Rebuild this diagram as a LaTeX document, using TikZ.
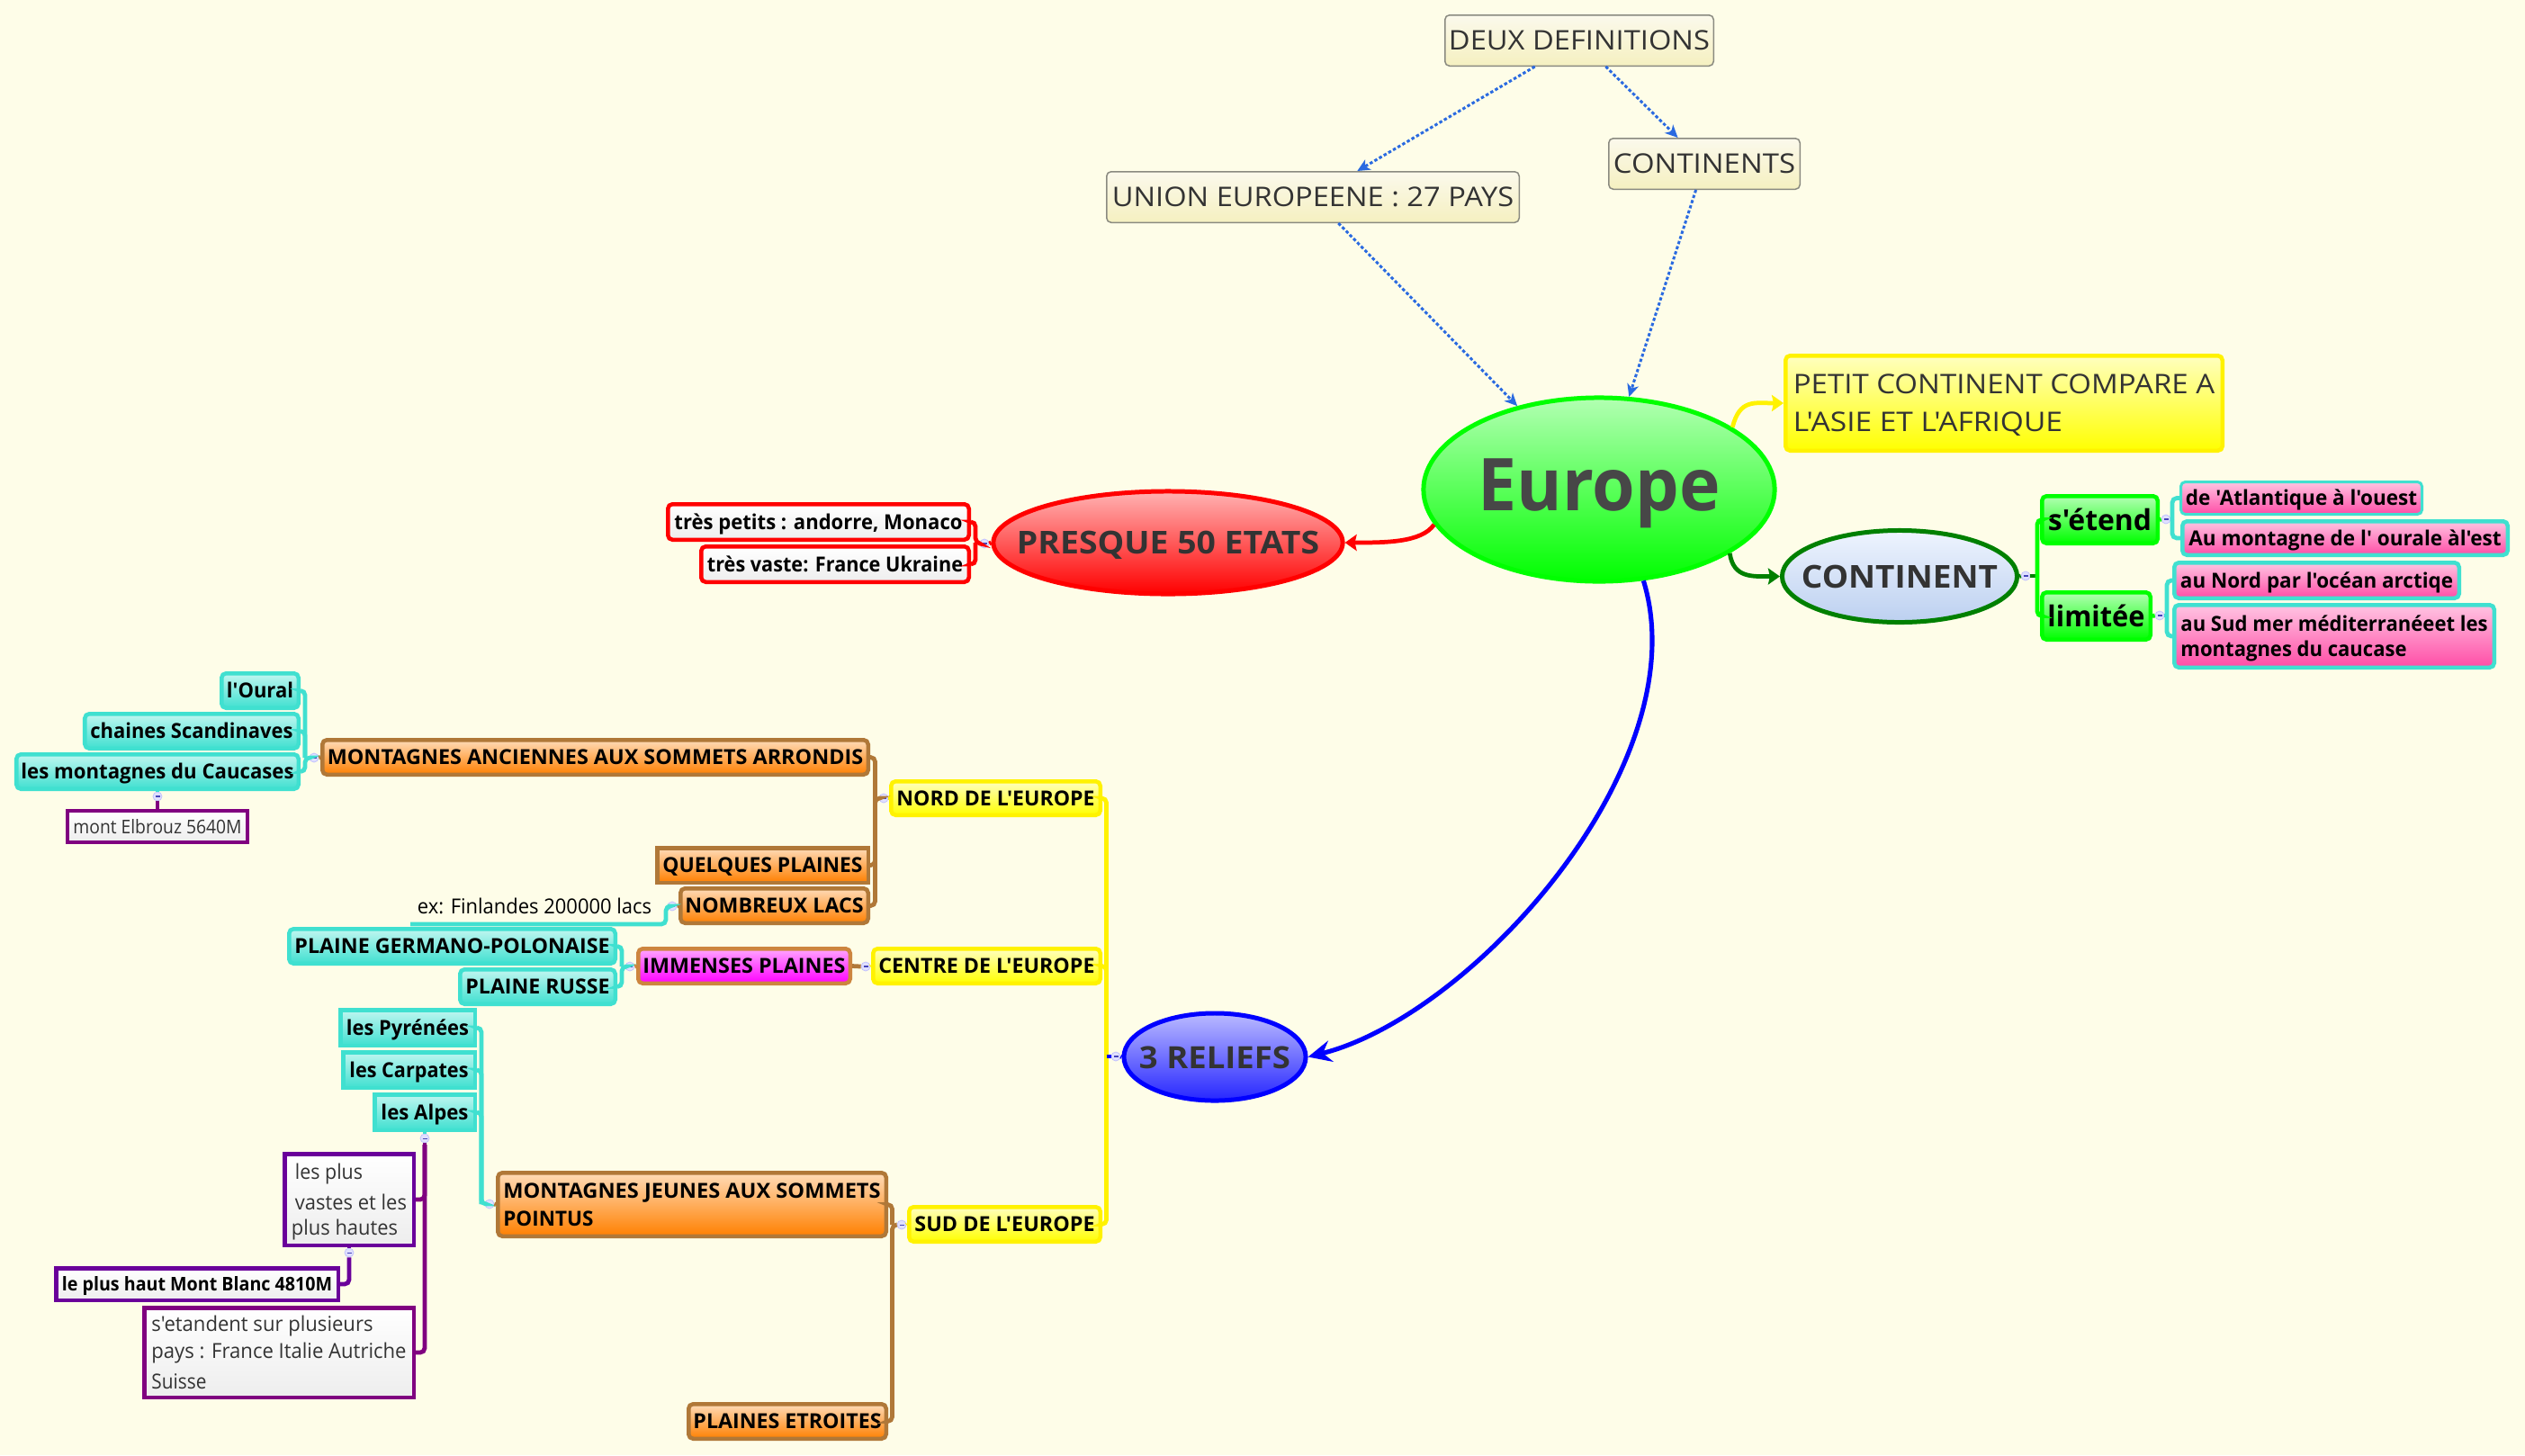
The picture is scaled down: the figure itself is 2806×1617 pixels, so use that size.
\documentclass[tikz,border=0pt]{standalone}
\usepackage{graphicx}
\usepackage{fontspec}
\setmainfont{Open Sans}[Ligatures=TeXOff]
\usetikzlibrary{arrows.meta,shapes.geometric}
\definecolor{bgc}{HTML}{FEFDE8}
\definecolor{tq}{HTML}{40E0D0}
\definecolor{tqt}{HTML}{C0F6F0}
\definecolor{brn}{HTML}{B07838}
\definecolor{brl}{HTML}{CD853F}
\definecolor{pu}{HTML}{800080}
\definecolor{pv}{HTML}{6A009A}
\definecolor{dg}{HTML}{008000}
\definecolor{dot}{HTML}{2A6AE0}
\definecolor{ink}{HTML}{333333}
\definecolor{pkt}{HTML}{FFC4E2}
\definecolor{pkb}{HTML}{FF4DA6}
\definecolor{cot}{HTML}{EEF4FE}
\definecolor{cob}{HTML}{BCD0F0}
\definecolor{crt}{HTML}{FBF9EC}
\definecolor{crb}{HTML}{F5F0C0}
\definecolor{crd}{HTML}{8A8A80}
\newsavebox{\fwbox}
% a line of text made exactly #1 px wide
\newcommand\fw[2]{\sbox{\fwbox}{#2}\pgfmathsetmacro{\fwr}{#1*0.28453/\the\wd\fwbox}\dp\fwbox=0pt \ht\fwbox=0.72em \scalebox{\fwr}[1]{\usebox{\fwbox}}}
% text in an ellipse: takes no room, baseline #1 below the centre
\newcommand\eltxt[2]{\makebox[0pt]{\smash{\raisebox{-#1}{#2}}}}
% box from outer corners
\newcommand\bx[8][4.5]{%
  \pgfmathsetmacro{\bxa}{(#4+#6)/2}\pgfmathsetmacro{\bxb}{(#5+#7)/2}%
  \pgfmathsetmacro{\bxw}{#6-#4-#1}\pgfmathsetmacro{\bxh}{#7-#5-#1}%
  \node[boxbase,#3,line width=#1*0.28453pt,minimum width=\bxw*0.01cm,minimum height=\bxh*0.01cm] (#2) at (\bxa,\bxb) {#8};}
\newcommand\mk[3]{\node[mark node] (#1) at (#2,#3) {};\draw[minus line] ([xshift=-0.025cm]#1.center) -- ([xshift=0.025cm]#1.center);}
\tikzset{
  boxbase/.style={rectangle,inner sep=0pt,align=left},
  rc/.style={rounded corners=0.05cm},
  mark node/.style={circle,inner sep=0pt,minimum size=0.1cm,fill=blue!12,draw=blue!25,line width=0.2pt},
  minus line/.style={draw=blue!45!gray,line width=0.3pt},
  b23/.style={font=\fontsize{6.54}{8.82}\selectfont\bfseries,text=black},
  r23/.style={font=\fontsize{6.54}{8.9}\selectfont,text=ink},
  tqb/.style={draw=tq,top color=tqt,bottom color=tq,b23},
  ye/.style={draw=yellow,top color=yellow!25!white,bottom color=yellow,b23,rc},
  org/.style={draw=brn,top color=orange!28!white,bottom color=orange!100!red,b23},
  pk/.style={draw=tq,top color=pkt,bottom color=pkb,b23,rc},
  gb/.style={draw=green,top color=green!30!white,bottom color=green,rc,font=\fontsize{9.1}{11}\selectfont\bfseries,text=black},
  wr/.style={draw=red,top color=white,bottom color=black!7,b23,rc},
  wp/.style={draw=pu,top color=white,bottom color=black!7,r23},
  wv/.style={draw=pv,top color=white,bottom color=black!7,r23},
  cream/.style={rc,draw=crd,top color=crt,bottom color=crb,font=\fontsize{8.54}{12}\selectfont,text=ink},
  ell/.style={ellipse,inner sep=0pt,font=\fontsize{9.96}{12}\selectfont\bfseries,text=ink},
  link/.style={line width=1.35pt,rounded corners=0.05cm},
  dotlink/.style={draw=dot,line width=0.85pt,dash pattern=on 1pt off 0.7pt,-{Stealth[length=0.14cm,width=0.13cm,inset=0.04cm]}},
  big tip/.style={-{Stealth[length=0.13cm,width=0.18cm,inset=0.02cm]}},
}
\begin{document}
\begin{tikzpicture}[x=0.01cm,y=-0.01cm]
\useasboundingbox (0,0) rectangle (2806,1617);
\fill[bgc] (0,0) rectangle (2806,1617);

% ---- top definitions
\bx[1.5]{dd}{cream}{1605}{16}{1905}{74}{\fw{290}{DEUX DEFINITIONS}}
\bx[1.5]{cn}{cream}{1787}{153}{2001}{211}{\fw{202}{CONTINENTS}}
\bx[1.5]{ue}{cream}{1229}{190}{1689}{248}{\fw{446}{UNION EUROPEENE : 27 PAYS}}

% ---- central ellipses
\node[ell,minimum width=3.9cm,minimum height=2.04cm,line width=1.42pt,draw=green,top color=green!30!white,bottom color=green,font=\fontsize{23}{28}\selectfont\bfseries,text=black!72] (eu) at (1777,544) {\eltxt{0.23cm}{\fw{269}{Europe}}};
\node[ell,minimum width=2.61cm,minimum height=1.02cm,line width=1.42pt,draw=dg,top color=cot,bottom color=cob] (co) at (2111,640.5) {\eltxt{0.125cm}{\fw{218}{CONTINENT}}};
\node[ell,minimum width=3.88cm,minimum height=1.14cm,line width=1.42pt,draw=red,top color=red!30!white,bottom color=red] (pr) at (1298,603) {\eltxt{0.12cm}{\fw{336}{PRESQUE 50 ETATS}}};
\node[ell,minimum width=2.02cm,minimum height=0.97cm,line width=1.42pt,draw=blue,top color=blue!27!white,bottom color=blue!85!white,font=\fontsize{9.67}{12}\selectfont\bfseries] (re) at (1350,1174.5) {\eltxt{0.125cm}{\fw{168}{3 RELIEFS}}};

\bx{pe}{ye,font=\fontsize{8.54}{11.95}\selectfont,text=ink}{1982}{393}{2472}{503}{\fw{468}{PETIT CONTINENT COMPARE A}\\\fw{299}{L'ASIE ET L'AFRIQUE}}

% ---- right branch
\bx{se}{gb}{2267}{549}{2400}{606}{\fw{115}{s'étend}}
\bx{li}{gb}{2267}{656}{2392}{713}{\fw{108}{limitée}}
\bx[3]{at}{pk}{2422}{534}{2693}{573}{\fw{257}{de 'Atlantique à l'ouest}}
\bx{mo}{pk}{2423}{577}{2789}{619}{\fw{347}{Au montagne de l' ourale àl'est}}
\bx{no}{pk}{2414}{623}{2735}{667}{\fw{303}{au Nord par l'océan arctiqe}}
\bx{su}{pk,font=\fontsize{6.54}{7.97}\selectfont\bfseries}{2414}{670}{2774}{744}{\fw{341}{au Sud mer méditerranéeet les}\\\fw{251}{montagnes du caucase}}

% ---- red branch
\bx{tp}{wr}{740}{558}{1079}{602}{\fw{320}{très petits : andorre, Monaco}}
\bx{tv}{wr}{777}{605}{1079}{649}{\fw{284}{très vaste: France Ukraine}}

% ---- north
\bx{ou}{tqb,rc}{244}{746}{334}{789}{\fw{74}{l'Oural}}
\bx{ch}{tqb,rc}{92}{791}{334}{834}{\fw{225}{chaines Scandinaves}}
\bx{ca}{tqb,rc}{16}{836}{334}{879}{\fw{303}{les montagnes du Caucases}}
\bx[4]{el}{wp,font=\fontsize{5.98}{8}\selectfont}{73}{899}{277}{938}{\fw{187}{mont Elbrouz 5640M}}
\bx{ma}{org,rc}{356}{820}{967}{863}{\fw{595}{MONTAGNES ANCIENNES AUX SOMMETS ARRONDIS}}
\bx{qu}{org}{728}{940}{967}{983}{\fw{222}{QUELQUES PLAINES}}
\bx{nb}{org,rc}{754}{985}{967}{1028}{\fw{198}{NOMBREUX LACS}}
\bx[0]{ex}{r23,text=black,draw=none}{456}{987}{732}{1027}{\fw{260}{ex: Finlandes 200000 lacs}}
\bx{nd}{ye}{988}{866}{1225}{908}{\fw{220}{NORD DE L'EUROPE}}

% ---- centre
\bx{ge}{tqb,rc}{319}{1030}{686}{1073}{\fw{350}{PLAINE GERMANO-POLONAISE}}
\bx{ru}{tqb,rc}{509}{1075}{686}{1118}{\fw{160}{PLAINE RUSSE}}
\bx{im}{draw=brl,top color=magenta!35!white,bottom color=magenta,b23,rc}{707}{1052}{947}{1095}{\fw{225}{IMMENSES PLAINES}}
\bx{ce}{ye}{968}{1052}{1225}{1095}{\fw{240}{CENTRE DE L'EUROPE}}

% ---- south
\bx{py}{tqb}{376}{1120}{530}{1164}{\fw{136}{les Pyrénées}}
\bx{cr}{tqb}{379}{1167}{530}{1211}{\fw{132}{les Carpates}}
\bx{al}{tqb}{414}{1214}{530}{1258}{\fw{97}{les Alpes}}
\bx{lp}{wv,font=\fontsize{6.54}{8.82}\selectfont}{314}{1280}{462}{1386}{\hspace*{0.04cm}\fw{75}{les plus}\\[0.85pt]\hspace*{0.04cm}\fw{124}{vastes et les}\\[-0.85pt]\fw{118}{plus hautes}}
\bx{lh}{wv,b23,font=\fontsize{5.98}{8}\selectfont\bfseries}{60}{1407}{378}{1447}{\fw{300}{le plus haut Mont Blanc 4810M}}
\bx{se2}{wp,font=\fontsize{6.54}{9.1}\selectfont}{158}{1451}{462}{1555}{\fw{246}{s'etandent sur plusieurs}\\[-0.57pt]\fw{283}{pays : France Italie Autriche}\\[0.57pt]\fw{61}{Suisse}}
\bx{mj}{org,rc}{551}{1301}{987}{1376}{\fw{419}{MONTAGNES JEUNES AUX SOMMETS}\\\fw{100}{POINTUS}}
\bx{pl}{org,rc}{763}{1558}{987}{1601}{\fw{209}{PLAINES ETROITES}}
\bx{sd}{ye}{1008}{1339}{1225}{1382}{\fw{200}{SUD DE L'EUROPE}}

% ---- dotted relations
\draw[dotlink] (dd) -- (ue);
\draw[dotlink] (dd) -- (cn);
\draw[dotlink] (ue) -- (eu);
\draw[dotlink] (cn) -- (eu);

% ---- curved main branches
\draw[yellow,line width=1.35pt,big tip] (eu.25) .. controls +(8,-32) and +(-32,0) .. (pe.west);
\draw[dg,line width=1.35pt,big tip] (eu.-26) .. controls +(4,28) and +(-30,0) .. (co.west);
\draw[red,line width=1.35pt,big tip] (eu.192) .. controls +(-14,20) and +(45,0) .. (pr.east);
\draw[blue,line width=1.45pt,-{Stealth[length=0.26cm,width=0.24cm,inset=0.09cm]}] (eu.-64) .. controls +(62,202) and +(184,-46) .. (re.east);

% ---- junction points
\coordinate (jco) at (2264,640);
\coordinate (jse) at (2414,577);
\coordinate (jli) at (2408,684);
\coordinate (jpr) at (1084,603);
\coordinate (jma) at (339,842);
\coordinate (jnd) at (972.5,887);
\coordinate (jex) at (740,1007);
\coordinate (jim) at (691,1074);
\coordinate (jmj) at (535,1338);
\coordinate (jsd) at (991.5,1361);
\coordinate (jre) at (1229.5,1174);
\coordinate (jal) at (472,1272);

% ---- markers
\mk{mco}{2251}{640}
\mk{mse}{2407}{577}
\mk{mli}{2400}{684}
\mk{mpr}{1094}{604}
\mk{mma}{349}{842}
\mk{mca}{175}{885}
\mk{mnd}{982}{887}
\mk{mnb}{747}{1007}
\mk{mim}{700}{1074}
\mk{mce}{962}{1074}
\mk{mmj}{544}{1338}
\mk{msd}{1002}{1361}
\mk{mre}{1240}{1174}
\mk{mal}{472}{1265}
\mk{mlp}{388}{1392}

% ---- tree connectors
\begin{scope}[link]
\draw[dg] (jco) -- (mco.east);
\draw[green] (se.west) -| (jco);
\draw[green] (li.west) -| (jco);
\draw[dg] (mco.west) -- (co.east);
\draw[red] (tp.east) -| (jpr) -- (mpr.west);
\draw[red] (tv.east) -| (jpr);
\draw[red] (mpr.east) -- (pr.west);
\draw[yellow] (nd.east) -| (jre);
\draw[yellow] (ce.east) -| (jre);
\draw[yellow] (sd.east) -| (jre);
\draw[blue] (jre) -- (mre.west);
\draw[blue] (mre.east) -- (re.west);
\draw[brn] (ma.east) -| (jnd);
\draw[brn] (qu.east) -| (jnd);
\draw[brn] (nb.east) -| (jnd) -- (mnd.west);
\draw[yellow] (mnd.east) -- (nd.west);
\draw[brn] (mj.east) -| (jsd);
\draw[brn] (pl.east) -| (jsd) -- (msd.west);
\draw[yellow] (msd.east) -- (sd.west);
\draw[brn] (im.east) -- (mce.west);
\draw[yellow] (mce.east) -- (ce.west);
\draw[brn] (mnb.east) -- (nb.west);
\draw[tq] (ex.south west) -| (jex) -- (mnb.west);
\draw[tq] (ou.east) -| (jma);
\draw[tq] (ch.east) -| (jma);
\draw[tq] (ca.east) -| (jma) -- (mma.west);
\draw[brn] (mma.east) -- (ma.west);
\draw[tq] (ca.south) -- (mca.north);
\draw[pu] (mca.south) -- (el.north);
\draw[tq] (ge.east) -| (jim);
\draw[tq] (ru.east) -| (jim) -- (mim.west);
\draw[brl] (mim.east) -- (im.west);
\draw[tq] (py.east) -| (jmj);
\draw[tq] (cr.east) -| (jmj);
\draw[tq] (al.east) -| (jmj) -- (mmj.west);
\draw[brn] (mmj.east) -- (mj.west);
\draw[tq] (al.south) -- (mal.north);
\draw[pu] (mal.south) -- (jal);
\draw[pu] (lp.east) -| (jal);
\draw[pu] (se2.east) -| (jal);
\draw[pv] (lp.south) -- (mlp.north);
\draw[pv] (mlp.south) |- (lh.east);
\draw[green] (mse.west) -- (se.east);
\draw[tq] (mse.east) -- (jse);
\draw[tq] (at.west) -| (jse);
\draw[tq] (mo.west) -| (jse);
\draw[green] (mli.west) -- (li.east);
\draw[tq] (mli.east) -- (jli);
\draw[tq] (no.west) -| (jli);
\draw[tq] (su.west) -| (jli);
\end{scope}
\end{tikzpicture}
\end{document}
